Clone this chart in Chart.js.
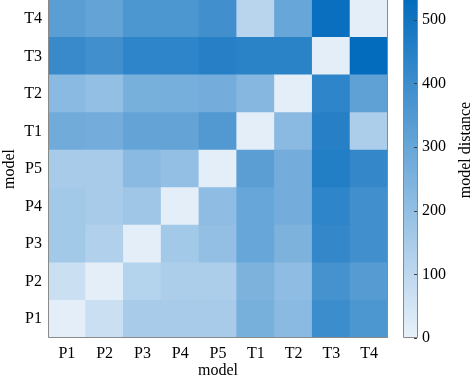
<!DOCTYPE html>
<html><head><meta charset="utf-8">
<script src="https://cdn.jsdelivr.net/npm/chart.js@4"></script>
<style>
html,body{margin:0;padding:0;background:#fff;}
#wrap{position:relative;width:474px;height:380px;}
canvas{position:absolute;left:0;top:0;}
</style>
</head><body>
<div id="wrap"><canvas id="main" width="474" height="380"></canvas><canvas id="cbar" width="474" height="380"></canvas></div>
<script>
// Columns (x) and rows (y, bottom to top)
const categories = ['P1','P2','P3','P4','P5','T1','T2','T3','T4'];
// each row: distance from row model to column models P1..T4
const rowP1 = [10, 70, 150, 150, 150, 260, 220, 400, 360];
const rowP2 = [70, 10, 120, 140, 140, 250, 210, 380, 340];
const rowP3 = [160, 130, 10, 160, 200, 300, 250, 420, 390];
const rowP4 = [160, 150, 170, 10, 210, 300, 270, 430, 390];
const rowP5 = [150, 150, 220, 200, 10, 330, 270, 460, 420];
const rowT1 = [280, 270, 310, 310, 350, 10, 220, 450, 140];
const rowT2 = [220, 200, 260, 265, 270, 230, 10, 430, 320];
const rowT3 = [410, 390, 430, 430, 450, 440, 440, 10, 530];
const rowT4 = [330, 310, 360, 360, 390, 110, 300, 520, 10];
const colorbarTicks = [0, 100, 200, 300, 400, 500];
const colorMax = 531;

const rows = [rowP1, rowP2, rowP3, rowP4, rowP5, rowT1, rowT2, rowT3, rowT4];
const FONT = {family: '"Liberation Serif", "DejaVu Serif", serif', size: 16};
const LOW = [232, 241, 250], HIGH = [4, 108, 189];
function cmap(v) {
  const t = Math.max(0, Math.min(1, v / colorMax));
  const c = LOW.map((a, i) => Math.round(a + (HIGH[i] - a) * t));
  return `rgb(${c[0]},${c[1]},${c[2]})`;
}
function noPad(s) { s.paddingTop = 0; s.paddingBottom = 0; s.paddingLeft = 0; s.paddingRight = 0; }

const frame = {
  id: 'frame',
  afterDatasetsDraw(chart) {
    const {ctx, chartArea: a} = chart;
    ctx.save();
    ctx.strokeStyle = '#8a8a8a';
    ctx.lineWidth = 1;
    ctx.beginPath();
    ctx.moveTo(Math.round(a.left) + 0.5, Math.round(a.top));
    ctx.lineTo(Math.round(a.left) + 0.5, Math.round(a.bottom) - 0.5);
    ctx.lineTo(Math.round(a.right) - 0.5, Math.round(a.bottom) - 0.5);
    ctx.lineTo(Math.round(a.right) - 0.5, Math.round(a.top));
    ctx.stroke();
    ctx.restore();
  }
};

new Chart(document.getElementById('main'), {
  type: 'bar',
  data: {
    labels: categories,
    datasets: rows.map((row, r) => ({
      label: categories[r],
      data: row.map(() => [r - 0.5, r + 0.5]),
      backgroundColor: row.map(cmap),
      borderWidth: 0,
      grouped: false,
      barPercentage: 1,
      categoryPercentage: 1,
      borderSkipped: false,
      inflateAmount: 0.5
    }))
  },
  options: {
    responsive: false,
    devicePixelRatio: 1,
    animation: false,
    layout: {padding: {left: 0, top: 0, bottom: 0, right: 86}},
    plugins: {legend: {display: false}, tooltip: {enabled: false}},
    scales: {
      x: {
        type: 'category',
        grid: {display: false, drawTicks: false},
        border: {display: false},
        ticks: {font: FONT, color: '#000', padding: 6, maxRotation: 0},
        title: {display: true, text: 'model', font: FONT, color: '#000', padding: {top: 0, bottom: 0}},
        afterFit: s => { s.height = 42; noPad(s); }
      },
      y: {
        type: 'linear',
        min: -0.5, max: 8.5,
        afterBuildTicks: s => { s.ticks = categories.map((c, i) => ({value: i})); },
        grid: {display: false, drawTicks: false},
        border: {display: false},
        ticks: {font: FONT, color: '#000', padding: 6, callback: v => categories[v]},
        title: {display: true, text: 'model', font: FONT, color: '#000', padding: {top: 0, bottom: 0}},
        afterFit: s => { s.width = 48; noPad(s); }
      }
    }
  },
  plugins: [frame]
});

const cbarDecor = {
  id: 'cbarDecor',
  afterDatasetsDraw(chart) {
    const {ctx, chartArea: a} = chart;
    const ys = chart.scales.y;
    ctx.save();
    ctx.strokeStyle = '#404040';
    ctx.lineWidth = 1;
    colorbarTicks.forEach(v => {
      const y = Math.round(ys.getPixelForValue(v)) + 0.5;
      ctx.beginPath();
      ctx.moveTo(a.right - 4, y);
      ctx.lineTo(a.right - 1, y);
      ctx.stroke();
    });
    ctx.strokeStyle = '#8a8a8a';
    ctx.beginPath();
    ctx.moveTo(Math.round(a.left) + 0.5, Math.round(a.top));
    ctx.lineTo(Math.round(a.left) + 0.5, Math.round(a.bottom) - 0.5);
    ctx.lineTo(Math.round(a.right) - 0.5, Math.round(a.bottom) - 0.5);
    ctx.lineTo(Math.round(a.right) - 0.5, Math.round(a.top));
    ctx.stroke();
    ctx.fillStyle = '#000';
    ctx.font = '16px "Liberation Serif", serif';
    ctx.textAlign = 'center';
    ctx.textBaseline = 'middle';
    ctx.translate(466, 150);
    ctx.rotate(-Math.PI / 2);
    ctx.fillText('model distance', 0, 0);
    ctx.restore();
  }
};

new Chart(document.getElementById('cbar'), {
  type: 'bar',
  data: {
    labels: [''],
    datasets: [{
      data: [[0, colorMax]],
      backgroundColor: (c) => {
        const a = c.chart.chartArea;
        if (!a) return cmap(colorMax / 2);
        const g = c.chart.ctx.createLinearGradient(0, a.bottom, 0, a.top);
        g.addColorStop(0, cmap(0));
        g.addColorStop(1, cmap(colorMax));
        return g;
      },
      borderWidth: 0,
      barPercentage: 1,
      categoryPercentage: 1,
      borderSkipped: false,
      inflateAmount: 0
    }]
  },
  options: {
    responsive: false,
    devicePixelRatio: 1,
    animation: false,
    layout: {padding: {left: 403, top: 0, bottom: 42, right: 0}},
    plugins: {legend: {display: false}, tooltip: {enabled: false}},
    scales: {
      x: {display: false},
      y: {
        position: 'right',
        min: 0, max: colorMax,
        afterBuildTicks: s => { s.ticks = colorbarTicks.map(v => ({value: v})); },
        grid: {display: false, drawTicks: false},
        border: {display: false},
        ticks: {font: FONT, color: '#000', padding: 4},
        title: {display: false},
        afterFit: s => { s.width = 56; noPad(s); }
      }
    }
  },
  plugins: [cbarDecor]
});
</script>
</body></html>
